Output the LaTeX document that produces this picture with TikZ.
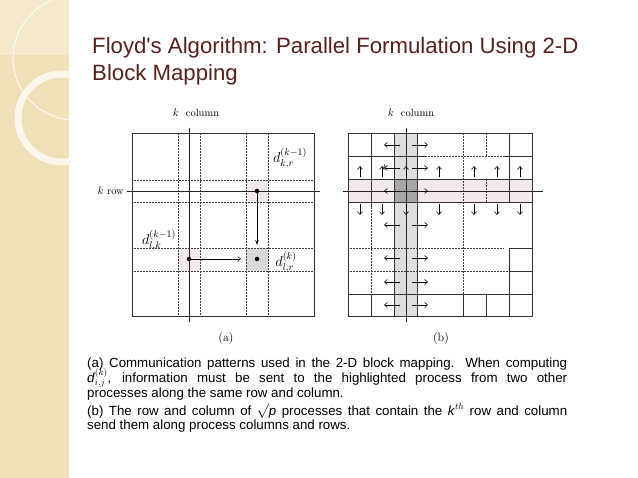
\documentclass[tikz,border=0pt]{standalone}
\usepackage{fontspec}
\newfontfamily\arial{Liberation Sans}
\usetikzlibrary{arrows.meta}
\definecolor{band}{RGB}{240,224,184}
\definecolor{titlec}{RGB}{85,35,30}
\definecolor{pinkc}{RGB}{242,232,238}
\tikzset{
 dotl/.style={densely dotted,line width=0.5pt,black!75},
 sol/.style={line width=0.6pt,black!80},
 kline/.style={line width=0.8pt,black!85},
 arr/.style={-{Straight Barb[length=3pt,width=5pt]},line width=0.55pt},
 lab/.style={font=\fontsize{10.5}{12}\selectfont,inner sep=0pt},
 dlab/.style={font=\fontsize{14}{16}\selectfont,inner sep=0pt},
 dot/.style={circle,fill=black,inner sep=0pt,minimum size=4.5pt}
}
\begin{document}
\begin{tikzpicture}[x=1pt,y=-1pt]
\useasboundingbox (0,0) rectangle (638,478);
\fill[white] (0,0) rectangle (638,478);
% left band
\fill[band] (0,0) rectangle (70,478);
\fill[band!70!white] (0,0) rectangle (70,55);
\draw[white,line width=1.2pt] (70,0) -- (70,478);
\begin{scope}
\clip (0,0) rectangle (70,478);
\draw[white!85!band,line width=1pt] (75,58) circle (62);
\draw[white!70!band,line width=7pt] (62,118) circle (44);
\end{scope}
% title
\node[anchor=west,font=\arial\fontsize{22.2}{26}\selectfont,text=titlec,inner sep=0pt] (t1) at (92,48) {Floyd's Algorithm: Parallel Formulation Using 2-D};
\node[anchor=west,font=\arial\fontsize{22.2}{26}\selectfont,text=titlec,inner sep=0pt] (t2) at (92,75) {Block Mapping};
% ---------- (a) ----------
\fill[black!15] (246,248) rectangle (268,271);
\fill[pinkc] (246,180) rectangle (268,202);
\fill[pinkc] (178,248) rectangle (200,271);
\foreach \x in {178,200,246,268} \draw[dotl] (\x,133) -- (\x,316);
\foreach \y in {180,202,248,271} \draw[dotl] (132,\y) -- (314,\y);
\draw[sol] (132,133) rectangle (314,316);
\draw[kline] (189,128) -- (189,322);
\draw[kline] (127,191) -- (320,191);
\node[dot] (akr) at (257,191) {};
\node[dot] (alk) at (189,259) {};
\node[dot] (alr) at (257,259) {};
\draw[-{Stealth[length=5pt,width=3.5pt]},line width=0.5pt] (akr) -- (257,245);
\draw[-{Straight Barb[length=3pt,width=5pt]},line width=0.5pt] (alk) -- (241,259);
\node[lab] (kc) at (196,113) {$k$\ \ column};
\node[lab,anchor=east] (kr) at (124,191) {$k$ row};
\node[dlab] (l1) at (290,158) {$d_{k,r}^{(k-1)}$};
\node[dlab] (l2) at (159,240) {$d_{l,k}^{(k-1)}$};
\node[dlab] (l3) at (286,262) {$d_{l,r}^{(k)}$};
\node[lab] (ca) at (226,339) {\large(a)};
% ---------- (b) ----------
\fill[pinkc] (348,179) rectangle (532,202);
\fill[black!13] (394,133) rectangle (417,316);
\fill[black!35] (394,179) rectangle (417,202);
\draw[sol] (348,133) rectangle (532,316);
% verticals
\draw[sol] (371,133) -- (371,207); \draw[dotl] (371,207) -- (371,294); \draw[sol] (371,294) -- (371,316);
\draw[sol] (394,133) -- (394,316);
\draw[sol] (417,133) -- (417,316);
\draw[dotl] (463,133) -- (463,294); \draw[sol] (463,294) -- (463,316);
\draw[dotl] (486,133) -- (486,156); \draw[dotl] (486,179) -- (486,202); \draw[sol] (486,294) -- (486,316);
\draw[sol] (509,133) -- (509,202); \draw[sol] (509,248) -- (509,316);
% horizontals
\draw[sol] (348,156) -- (426,156); \draw[dotl] (426,156) -- (503,156); \draw[sol] (503,156) -- (532,156);
\draw[sol] (348,179) -- (532,179);
\draw[sol] (348,202) -- (532,202);
\draw[dotl] (348,248) -- (503,248); \draw[sol] (509,248) -- (532,248);
\draw[dotl] (348,271) -- (509,271); \draw[sol] (509,271) -- (532,271);
\draw[sol] (348,294) -- (532,294);
\draw[kline] (406,128) -- (406,322);
\draw[kline] (343,191) -- (543,191);
\foreach \y in {145,168,191,225,258,282,305} {
  \draw[arr] (400,\y) -- (384,\y);
  \draw[arr] (412,\y) -- (428,\y);
}
\foreach \x in {360,382,406,439,474,497,520} {
  \draw[arr] (\x,177) -- (\x,166);
  \draw[arr] (\x,204) -- (\x,215);
}
\node[lab,font=\fontsize{7}{8}\selectfont] (kk) at (385,167) {$k$};
\node[lab] (kc2) at (411,113) {$k$\ \ column};
\node[lab] (cb) at (441,339) {\large(b)};
% caption
\node[anchor=north west,inner sep=0pt,text width=480pt,align=justify,font=\arial\fontsize{13.3}{14.6}\selectfont] (cap) at (87,358)
{(a) Communication patterns used in the 2-D block mapping. When computing\linebreak \smash{\textit{d}$_{i,j}^{(k)}$}, information must be sent to the highlighted process from two other\linebreak processes along the same row and column.\par\vspace{3.5pt}
(b) The row and column of $\surd$\textit{p} processes that contain the \textit{k}$^{th}$ row and column\linebreak send them along process columns and rows.};
\end{tikzpicture}
\end{document}
